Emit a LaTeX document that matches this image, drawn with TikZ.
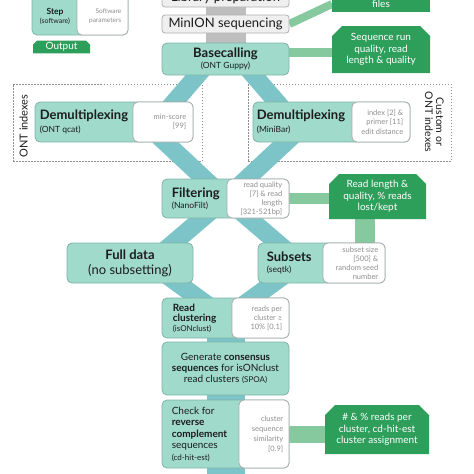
\documentclass[tikz,border=0pt]{standalone}
\usepackage{fontspec}
\setmainfont{Lato}
\usetikzlibrary{shapes.misc,backgrounds}
\definecolor{stepfill}{HTML}{A0DACB}
\definecolor{stepline}{HTML}{7DB5A8}
\definecolor{parline}{HTML}{ABABAB}
\definecolor{partext}{HTML}{8E8E8E}
\definecolor{seqfill}{HTML}{EFEFEF}
\definecolor{seqline}{HTML}{B0B0B0}
\definecolor{outgreen}{HTML}{2E9E5B}
\definecolor{linkgreen}{HTML}{86C99E}
\definecolor{linkteal}{HTML}{7CC4C8}
\definecolor{linkgray}{HTML}{BEBEBE}
\definecolor{ink}{HTML}{1C1C1C}
\newcommand{\stepname}[2][13]{{\fontsize{#1}{#1}\selectfont\bfseries #2}}

\begin{document}
\begin{tikzpicture}[x=1pt,y=-1pt]
  \tikzstyle{stepbox}=[draw=stepline, fill=stepfill, line width=0.8pt, rounded corners=5pt, inner sep=0pt]
  \tikzstyle{parbox}=[draw=parline, fill=white, line width=0.8pt, rounded corners=5pt, inner sep=0pt]
  \tikzstyle{seqbox}=[draw=seqline, fill=seqfill, line width=0.8pt, rounded corners=3pt, inner sep=0pt, text=ink]
  \tikzstyle{outbox}=[chamfered rectangle, chamfered rectangle corners={north west,north east}, chamfered rectangle xsep=5pt, chamfered rectangle ysep=5pt, fill=outgreen, text=white, inner sep=0pt, align=center, font=\fontsize{10}{11.5}\selectfont]
  \tikzstyle{dashbox}=[draw=partext, line width=0.7pt, dash pattern=on 1.5pt off 1.5pt, inner sep=0pt]
  \tikzstyle{steptext}=[inner sep=0pt, align=left, text=ink]
  \tikzstyle{partxt}=[inner sep=0pt, align=right, text=partext, font=\fontsize{7.5}{9.5}\selectfont]
  \tikzstyle{tealband}=[draw=linkteal, line width=18pt]
  \tikzstyle{greenband}=[draw=linkgreen]
  \useasboundingbox (0,0) rectangle (474,474);

  % legend
  \node[stepbox, minimum width=96pt, minimum height=55pt] (legStep) at (80,7.5) {};
  \node[parbox, minimum width=51pt, minimum height=55pt] (legPar) at (102.5,7.5) {};
  \node[steptext, align=center, font=\fontsize{7}{9}\selectfont] (legStepTxt) at (55,16) {\stepname[8.5]{Step}\\(software)};
  \node[partxt, font=\fontsize{6.5}{9}\selectfont, anchor=east] (legParTxt) at ([xshift=-7pt]legPar.east |- legStepTxt) {Software\\parameters};
  \node[outbox, minimum width=57pt, minimum height=12pt, chamfered rectangle xsep=2pt, chamfered rectangle ysep=2pt] (legOut) at (61.5,47) {Output};

  % sequencing
  \node[seqbox, minimum width=127pt, minimum height=27pt] (lib) at (225.5,-6.5) {};
  \node[inner sep=0pt, anchor=base, text=ink, font=\fontsize{13}{14}\selectfont] (libTxt) at (225.5,1) {Library preparation};
  \node[seqbox, minimum width=127pt, minimum height=18pt, font=\fontsize{13}{14}\selectfont] (minion) at (225.5,24) {MinION sequencing};
  \node[outbox, rectangle, minimum width=98pt, minimum height=42pt] (files) at (381,-9) {};
  \node[inner sep=0pt, text=white, font=\fontsize{10}{11.5}\selectfont] (filesTxt) at (381,4) {files};
  \node[outbox, minimum width=98pt, minimum height=47pt] (qcRun) at (381,49.5) {Sequence run\\quality, read\\length \& quality};
  \node[stepbox, minimum width=127pt, minimum height=32pt] (basecall) at (225.5,59) {};
  \node[steptext, align=center, font=\fontsize{8.5}{11}\selectfont] (basecallTxt) at (basecall) {\stepname{Basecalling}\\(ONT Guppy)};

  % demultiplexing
  \node[stepbox, minimum width=158pt, minimum height=40pt] (demuxL) at (114,122) {};
  \node[parbox, minimum width=60pt, minimum height=40pt] (demuxLpar) at (163,122) {};
  \node[steptext, anchor=west, font=\fontsize{8.5}{13}\selectfont] (demuxLTxt) at ([xshift=5pt]demuxL.west) {\stepname{Demultiplexing}\\(ONT qcat)};
  \node[partxt, anchor=east] (demuxLParTxt) at ([xshift=-7pt]demuxLpar.east) {min-score\\{[99]}};
  \node[stepbox, minimum width=157pt, minimum height=40pt] (demuxR) at (331.5,122) {};
  \node[parbox, minimum width=58pt, minimum height=40pt] (demuxRpar) at (381,122) {};
  \node[steptext, anchor=west, font=\fontsize{8.5}{13}\selectfont] (demuxRTxt) at ([xshift=4pt]demuxR.west) {\stepname{Demultiplexing}\\(MiniBar)};
  \node[partxt, anchor=east] (demuxRParTxt) at ([xshift=-7pt]demuxRpar.east) {index [2] \&\\primer [11]\\edit distance};

  % filtering
  \node[stepbox, minimum width=127pt, minimum height=39pt] (filter) at (225.5,198.5) {};
  \node[parbox, minimum width=62pt, minimum height=39pt] (filterpar) at (258,198.5) {};
  \node[steptext, anchor=west, font=\fontsize{8.5}{11}\selectfont] (filterTxt) at ([xshift=10pt]filter.west) {\stepname{Filtering}\\(NanoFilt)};
  \node[partxt, anchor=east, font=\fontsize{7.5}{9}\selectfont] (filterParTxt) at ([xshift=-7pt]filterpar.east) {read quality\\{[7]} \& read\\length\\{[321-521bp]}};
  \node[outbox, minimum width=97pt, minimum height=45pt] (qcFilt) at (377.5,196.5) {Read length \&\\quality, \% reads\\lost/kept};

  % subsetting
  \node[stepbox, minimum width=126pt, minimum height=40pt, align=center, text=ink, font=\fontsize{13}{15}\selectfont] (full) at (130,263) {\textbf{Full data}\\(no subsetting)};
  \node[stepbox, minimum width=127pt, minimum height=40pt] (subsets) at (321.5,263) {};
  \node[parbox, minimum width=62pt, minimum height=40pt] (subsetspar) at (354,263) {};
  \node[steptext, anchor=west, font=\fontsize{8.5}{11}\selectfont] (subsetsTxt) at ([xshift=9pt]subsets.west) {\stepname{Subsets}\\(seqtk)};
  \node[partxt, anchor=east, font=\fontsize{7.5}{9}\selectfont] (subsetsParTxt) at ([xshift=-7pt]subsetspar.east) {subset size\\{[500]} \&\\random seed\\number};

  % clustering
  \node[stepbox, minimum width=127pt, minimum height=40pt] (clust) at (225.5,318) {};
  \node[parbox, minimum width=57pt, minimum height=40pt] (clustpar) at (260.5,318) {};
  \node[steptext, anchor=west, font=\fontsize{8}{10}\selectfont] (clustTxt) at ([xshift=11pt]clust.west) {\stepname[10]{Read}\\\stepname[10]{clustering}\\(isONclust)};
  \node[partxt, anchor=east, font=\fontsize{7.5}{9}\selectfont] (clustParTxt) at ([xshift=-7pt]clustpar.east) {reads per\\cluster ≥\\10\% [0.1]};
  \node[stepbox, minimum width=127pt, minimum height=53pt, align=center, text=ink, font=\fontsize{10}{11}\selectfont] (cons) at (225.5,368.5) {Generate \textbf{consensus}\\\textbf{sequences} for isONclust\\read clusters {\fontsize{8}{11}\selectfont(SPOA)}};

  % reverse complement
  \node[stepbox, minimum width=127pt, minimum height=68pt] (check) at (225.5,434) {};
  \node[parbox, minimum width=50pt, minimum height=68pt] (checkpar) at (264,434) {};
  \node[steptext, anchor=west, font=\fontsize{10}{11.5}\selectfont] (checkTxt) at ([xshift=10pt]check.west) {Check for\\\textbf{reverse}\\\textbf{complement}\\sequences\\{\fontsize{8}{11}\selectfont(cd-hit-est)}};
  \node[partxt, anchor=east, font=\fontsize{7.5}{10}\selectfont] (checkParTxt) at ([xshift=-6pt]checkpar.east) {cluster\\sequence\\similarity\\{[0.9]}};
  \node[outbox, minimum width=104pt, minimum height=49pt] (qcClust) at (377,429.5) {\# \& \% reads per\\cluster, cd-hit-est\\cluster assignment};

  \coordinate (xL) at (151,129);
  \coordinate (xR) at (300,129);
  \coordinate (xF) at (150,263);
  \coordinate (xS) at (301,263);
  \coordinate (bottom) at (225.5,480);
  \coordinate (filesIn) at (332,4);

  \begin{scope}[on background layer]
    \node[dashbox, minimum width=189pt, minimum height=77pt] (ontBox) at (107.5,122.5) {};
    \node[dashbox, minimum width=203pt, minimum height=77pt] (customBox) at (349.5,122.5) {};
    \node[inner sep=0pt, rotate=90, text=ink, font=\fontsize{11}{13}\selectfont] (ontLbl) at (23.5,126) {ONT indexes};
    \node[inner sep=0pt, rotate=-90, align=center, text=ink, font=\fontsize{10.5}{11}\selectfont] (customLbl) at (434.5,122) {Custom or\\ONT indexes};
    % branches
    \draw[tealband] (basecall.north) -- (xL) -- (filter.center);
    \draw[tealband] (basecall.north) -- (xR) -- (filter.center);
    \draw[tealband] (filter.center) -- (xF) -- (clust.center);
    \draw[tealband] (filter.center) -- (xS) -- (clust.center);
    \draw[tealband, line width=38pt] (clust) -- (cons) -- (check) -- (bottom);
    \draw[draw=linkgray, line width=40pt] (lib) -- (basecall);
    % outputs
    \draw[greenband, line width=8pt] (minion.east) -- (filesIn);
    \draw[greenband, line width=9pt] ([yshift=-3pt]qcRun.west -| basecall.east) -- ([yshift=-3pt]qcRun.west);
    \draw[greenband, line width=11pt] (filter.east) -- (filter.east -| qcFilt.west);
    \draw[greenband, line width=20pt] ([xshift=-12.5pt]qcFilt.south) -- ([xshift=-12.5pt]qcFilt.south |- subsets.north);
    \draw[greenband, line width=17pt] (check.east) -- (check.east -| qcClust.west);
  \end{scope}
\end{tikzpicture}
\end{document}
